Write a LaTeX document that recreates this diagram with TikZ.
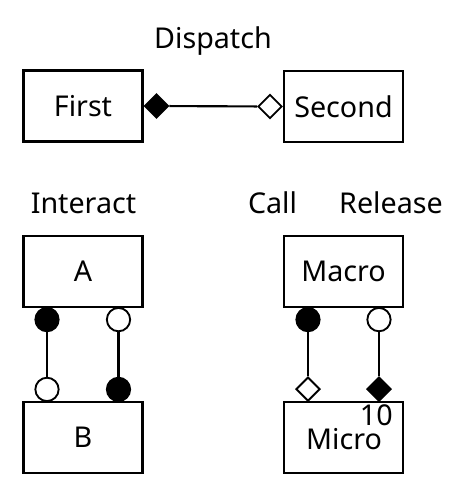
\documentclass[tikz,border=0pt]{standalone}
\usepackage{fontspec}
\setmainfont{Noto Sans}
\usetikzlibrary{shapes.geometric}
\tikzset{
  box/.style={draw, line width=1.8pt, minimum width=89pt, minimum height=53pt, inner sep=0pt, font=\fontsize{21.5}{25}\selectfont},
  lbl/.style={font=\fontsize{21.5}{25}\selectfont, inner sep=0pt, anchor=base},
  conn/.style={line width=1.6pt},
  fcirc/.style={circle, draw, fill=black, line width=1.4pt, minimum size=17.5pt, inner sep=0pt},
  ocirc/.style={circle, draw, fill=white, line width=1.4pt, minimum size=17.5pt, inner sep=0pt},
  fdia/.style={diamond, draw, fill=black, line width=1.4pt, minimum size=18pt, inner sep=0pt},
  odia/.style={diamond, draw, fill=white, line width=1.4pt, minimum size=18pt, inner sep=0pt}
}
\begin{document}
\begin{tikzpicture}[x=0.75pt, y=-0.75pt]
\useasboundingbox (0,0) rectangle (474,497);
% top
\node[lbl] (ldispatch) at (213,48) {Dispatch};
\node[box] (first) at (83,106) {First};
\node[box] (second) at (343.5,106.5) {Second};
\node[fdia, anchor=west] (d1) at (first.east) {};
\node[odia, anchor=east] (d2) at (second.west) {};
\draw[conn] (d1) -- (d2);
% interact
\node[lbl] (linteract) at (83.5,213) {Interact};
\node[box] (a) at (83,271.5) {A};
\node[box] (b) at (83,437.5) {B};
\node[fcirc, anchor=north] (a1) at (47,307) {};
\node[ocirc, anchor=south] (b1) at (47,402) {};
\node[ocirc, anchor=north] (a2) at (118.5,307) {};
\node[fcirc, anchor=south] (b2) at (118.5,402) {};
\draw[conn] (a1) -- (b1);
\draw[conn] (a2) -- (b2);
% call / release
\node[lbl] (lcall) at (272.5,213) {Call};
\node[lbl] (lrelease) at (391,213) {Release};
\node[box] (macro) at (343.5,271.5) {Macro};
\node[box, text depth=0pt, text height=0pt] (micro) at (343.5,437.5) {};
\node[lbl] (mtext) at (344,449.5) {Micro};
\node[lbl, anchor=base east] (m10) at (393,425) {10};
\node[fcirc, anchor=north] (m1) at (308,307) {};
\node[odia, anchor=south] (u1) at (308,402) {};
\node[ocirc, anchor=north] (m2) at (379,307) {};
\node[fdia, anchor=south] (u2) at (379,402) {};
\draw[conn] (m1) -- (u1);
\draw[conn] (m2) -- (u2);
\end{tikzpicture}
\end{document}
